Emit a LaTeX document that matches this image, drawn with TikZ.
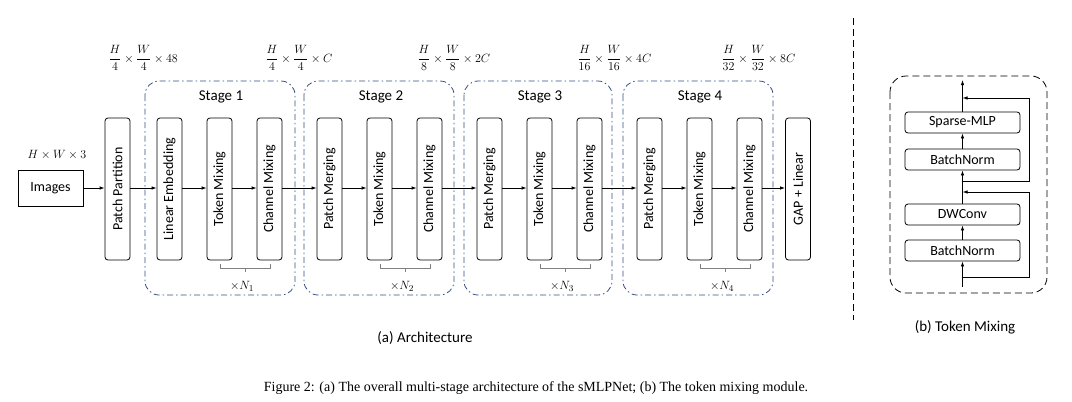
\documentclass[tikz,border=0pt]{standalone}
\usepackage{amsmath}
\usepackage{fontspec}
\setmainfont{Carlito}
\newfontfamily\capfont{Liberation Serif}
\usetikzlibrary{arrows.meta}
\definecolor{stageblue}{RGB}{55,80,130}
\begin{document}
\begin{tikzpicture}[x=1pt,y=-1pt,
  blk/.style={draw,thick,rounded corners=3pt,minimum width=25pt,minimum height=142pt,inner sep=0pt,
    label={[rotate=90,font=\fontsize{14}{16}\selectfont]center:#1}},
  hb/.style={draw,thick,rounded corners=3pt,minimum width=115pt,minimum height=21pt,font=\fontsize{14}{16}\selectfont,inner sep=0pt},
  stage/.style={draw=stageblue,thick,dash pattern=on 6pt off 3pt on 1.5pt off 3pt,rounded corners=14pt},
  arr/.style={-{Latex[length=5pt,width=3.5pt]},thick},
  dim/.style={font=\fontsize{13}{15}\selectfont,anchor=west}]
\useasboundingbox (0,0) rectangle (1072,402);
% stages
\draw[stage] (145,81) rectangle (295,295);
\draw[stage] (304,81) rectangle (454,295);
\draw[stage] (464,81) rectangle (612,295);
\draw[stage] (623,81) rectangle (773,295);
\node[font=\fontsize{15}{17}\selectfont] (s1) at (221,97) {Stage 1};
\node[font=\fontsize{15}{17}\selectfont] (s2) at (381,97) {Stage 2};
\node[font=\fontsize{15}{17}\selectfont] (s3) at (540,97) {Stage 3};
\node[font=\fontsize{15}{17}\selectfont] (s4) at (700,97) {Stage 4};
% images
\node[draw,thick,minimum width=65pt,minimum height=36pt,font=\fontsize{14}{16}\selectfont] (img) at (50.5,188) {Images};
\node[font=\fontsize{13}{15}\selectfont] (d0) at (57,155) {$H\times W\times 3$};
% blocks
\node[blk=Patch Partition] (pp) at (117.5,189) {};
\node[blk=Linear Embedding] (le) at (169.5,189) {};
\node[blk=Token Mixing] (t1) at (219.5,189) {};
\node[blk=Channel Mixing] (c1) at (269.5,189) {};
\node[blk=Patch Merging] (m2) at (329.5,189) {};
\node[blk=Token Mixing] (t2) at (379.5,189) {};
\node[blk=Channel Mixing] (c2) at (429.5,189) {};
\node[blk=Patch Merging] (m3) at (489.5,189) {};
\node[blk=Token Mixing] (t3) at (539.5,189) {};
\node[blk=Channel Mixing] (c3) at (589.5,189) {};
\node[blk=Patch Merging] (m4) at (649.5,189) {};
\node[blk=Token Mixing] (t4) at (699.5,189) {};
\node[blk=Channel Mixing] (c4) at (749.5,189) {};
\node[blk=GAP + Linear] (gap) at (798,189) {};
\draw[arr] (img) -- (pp.west|-img);
\foreach \a/\b in {pp/le,le/t1,t1/c1,c1/m2,m2/t2,t2/c2,c2/m3,m3/t3,t3/c3,c3/m4,m4/t4,t4/c4,c4/gap}
  \draw[arr] (\a.east|-img) -- (\b.west|-img);
% brackets
\foreach \x/\n in {220/1,380/2,540/3,700/4}{
  \draw[gray] (\x,264) -- (\x,268) -- (\x+50,268) -- (\x+50,264);
  \draw[gray] (\x+25,268) -- (\x+25,272);
  \node[font=\fontsize{13}{15}\selectfont] (n\n) at (\x+22,286) {$\times N_{\n}$};
}
% dims
\node[dim] (d1) at (105,58) {$\dfrac{H}{4}\times\dfrac{W}{4}\times 48$};
\node[dim] (d2) at (262,58) {$\dfrac{H}{4}\times\dfrac{W}{4}\times C$};
\node[dim] (d3) at (414,58) {$\dfrac{H}{8}\times\dfrac{W}{8}\times 2C$};
\node[dim] (d4) at (574,58) {$\dfrac{H}{16}\times\dfrac{W}{16}\times 4C$};
\node[dim] (d5) at (718,58) {$\dfrac{H}{32}\times\dfrac{W}{32}\times 8C$};
\node[font=\fontsize{15}{17}\selectfont] (la) at (425,338) {(a) Architecture};
% separator
\draw[thick,dash pattern=on 7pt off 4pt] (853,18) -- (853,320);
% token mixing
\draw[thick,dash pattern=on 7pt off 4pt,rounded corners=16pt] (890,76) rectangle (1047,293);
\node[hb] (sm) at (962.5,122.5) {Sparse-MLP};
\node[hb] (bn2) at (962.5,159.5) {BatchNorm};
\node[hb] (dw) at (962.5,214.5) {DWConv};
\node[hb] (bn1) at (962.5,250.5) {BatchNorm};
\coordinate (in) at (962.5,287);
\coordinate (out) at (962.5,80);
\coordinate (j1) at (962.5,277);
\coordinate (j2) at (962.5,192);
\coordinate (j3) at (962.5,181);
\coordinate (j4) at (962.5,98);
\draw[arr] (in) -- (bn1);
\draw[arr] (bn1) -- (dw);
\draw[arr] (dw) -- (bn2);
\draw[arr] (bn2) -- (sm);
\draw[arr] (sm) -- (out);
\draw[arr] (j1) -- (1029,277) -- (1029,192) -- (j2);
\draw[arr] (j3) -- (1029,181) -- (1029,98) -- (j4);
\node[font=\fontsize{15}{17}\selectfont] (lb) at (965,327) {(b) Token Mixing};
\node[font=\capfont\fontsize{14}{16}\selectfont] (cap) at (536,388) {Figure 2: (a) The overall multi-stage architecture of the sMLPNet; (b) The token mixing module.};
\end{tikzpicture}
\end{document}
